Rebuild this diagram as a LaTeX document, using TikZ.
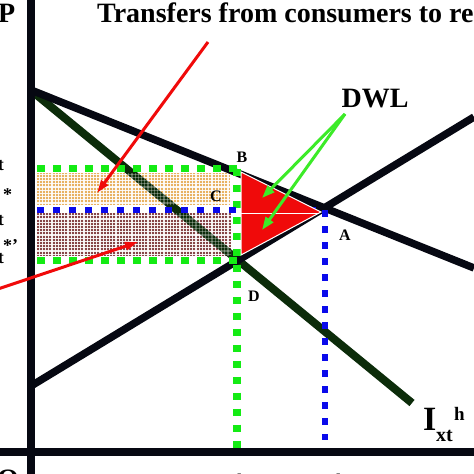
\documentclass[tikz,border=0pt]{standalone}
\usepackage{fontspec}
\setmainfont{Liberation Serif}
\usetikzlibrary{arrows.meta}
\definecolor{axisblack}{RGB}{6,8,18}
\definecolor{darkgrn}{RGB}{12,44,10}
\definecolor{brightgrn}{RGB}{20,235,20}
\definecolor{arrowgrn}{RGB}{60,235,40}
\definecolor{dotblue}{RGB}{10,10,235}
\definecolor{tanfill}{RGB}{232,178,98}
\definecolor{brownfill}{RGB}{135,70,72}
\definecolor{redtri}{RGB}{240,10,10}
\tikzset{
  axisline/.style={line width=7.5pt, axisblack},
  curveline/.style={line width=7.5pt, axisblack},
  icurve/.style={line width=8pt, darkgrn},
  grndots/.style={line width=7.5pt, brightgrn, dash pattern=on 7.5pt off 8.5pt},
  bluedots/.style={line width=6.5pt, dotblue, dash pattern=on 7pt off 9pt},
  redarrow/.style={line width=3pt, redtri, -{Triangle[length=13pt,width=8pt]}},
  grnarrow/.style={line width=3pt, arrowgrn, -{Triangle[length=13pt,width=9pt]}},
  lbl/.style={font=\fontsize{16}{18}\selectfont\bfseries, inner sep=0pt},
  biglbl/.style={font=\fontsize{28}{30}\selectfont\bfseries, inner sep=0pt},
  sidelbl/.style={font=\fontsize{18}{20}\selectfont\bfseries, inner sep=0pt},
  gridln/.style={white, line width=1.3pt},
}
\begin{document}
\begin{tikzpicture}[x=1pt,y=-1pt]
\useasboundingbox (0,0) rectangle (474,474);
\fill[white] (0,0) rectangle (474,474);
% coordinates
\coordinate (ytop) at (31,-5);
\coordinate (ybot) at (31,479);
\coordinate (xl) at (-5,452);
\coordinate (xr) at (479,452);
\coordinate (d1) at (31,90);
\coordinate (d2) at (474,268);
\coordinate (s1) at (31,386);
\coordinate (s2) at (474,117);
\coordinate (i1) at (33,92);
\coordinate (i2) at (412,403);
% hatched bands
\fill[tanfill] (37,173) rectangle (230,205);
\fill[brownfill] (37,213) rectangle (231,256);
\begin{scope}
\clip (37,173) rectangle (230,205) (37,213) rectangle (231,256);
\foreach \gx in {36,39.2,...,240} {\draw[gridln, opacity=0.85] (\gx,170) -- (\gx,260);}
\foreach \gy in {171,174.2,...,260} {\draw[gridln, opacity=0.85] (30,\gy) -- (240,\gy);}
\end{scope}
\draw[icurve] (i1) -- (i2);
\begin{scope}
\clip (37,173) rectangle (230,205) (37,213) rectangle (231,256);
\foreach \gx in {36,39.2,...,240} {\draw[gridln, opacity=0.3] (\gx,170) -- (\gx,260);}
\foreach \gy in {171,174.2,...,260} {\draw[gridln, opacity=0.3] (30,\gy) -- (240,\gy);}
\end{scope}
% black curves
\draw[curveline] (d1) -- (d2);
\draw[curveline] (s1) -- (s2);
% dotted lines
\coordinate (g1) at (37,168.5);
\coordinate (g2) at (237,168.5);
\coordinate (g3) at (237,452);
\coordinate (g4) at (37,260.5);
\coordinate (g5) at (237,260.5);
\draw[grndots] (g1) -- (g2);
\draw[grndots] (g4) -- (g5);
\draw[grndots] (g2) -- (g3);
\coordinate (b1) at (37,210);
\coordinate (A) at (325,210);
\coordinate (b2) at (325,440);
\draw[bluedots] (b1) -- (A);
\draw[bluedots] (A) -- (b2);
% DWL triangle
\coordinate (t1) at (241,172);
\coordinate (t2) at (321,212);
\coordinate (t3) at (241,255);
\coordinate (tm1) at (241,213);
\coordinate (tm2) at (318,213);
\fill[redtri, draw=white, line width=1pt] (t1) -- (t2) -- (t3) -- cycle;
\draw[white, line width=1pt] (tm1) -- (tm2);
% axes
\draw[axisline] (ytop) -- (ybot);
\draw[axisline] (xl) -- (xr);
% arrows
\coordinate (ra1) at (208,42);
\coordinate (ra2) at (97,193);
\coordinate (rb1) at (-8,291);
\coordinate (rb2) at (138,242);
\draw[redarrow] (ra1) -- (ra2);
\draw[redarrow] (rb1) -- (rb2);
\coordinate (ga0) at (345,114);
\coordinate (ga1) at (262,198);
\coordinate (ga2) at (262,230);
\draw[grnarrow] (ga0) -- (ga1);
\draw[grnarrow] (ga0) -- (ga2);
% labels
\node[biglbl, anchor=base west] (title) at (97,22) {Transfers from consumers to re};
\node[biglbl, anchor=base west] (P) at (-2,22) {P};
\node[biglbl, anchor=base west] (Q) at (-3,488) {Q};
\node[biglbl, anchor=base] (dwl) at (375,107) {DWL};
\node[lbl] (Bl) at (242,157) {B};
\node[lbl] (Cl) at (216,196) {C};
\node[lbl] (Dl) at (254,296) {D};
\node[lbl] (Al) at (345,235.5) {A};
\node[anchor=base west, inner sep=0pt, font=\fontsize{34}{36}\selectfont\bfseries] (Il) at (423,430) {I};
\node[anchor=base west, inner sep=0pt, font=\fontsize{20}{22}\selectfont\bfseries] (Ixt) at (436,441) {xt};
\node[anchor=base west, inner sep=0pt, font=\fontsize{19}{21}\selectfont\bfseries] (Ih) at (454,420) {h};
\node[sidelbl, anchor=base west] (q1) at (232,486) {d*};
\node[sidelbl, anchor=base west] (q2) at (331,486) {d*};
% left cut labels
\node[sidelbl, anchor=base east] (p1) at (4,170) {t};
\node[sidelbl, anchor=base west] (p2) at (3,200) {*};
\node[sidelbl, anchor=base east] (p3) at (4,225) {t};
\node[sidelbl, anchor=base west] (p4) at (3,251) {*’};
\node[sidelbl, anchor=base east] (p5) at (4,263) {t};
\end{tikzpicture}
\end{document}
